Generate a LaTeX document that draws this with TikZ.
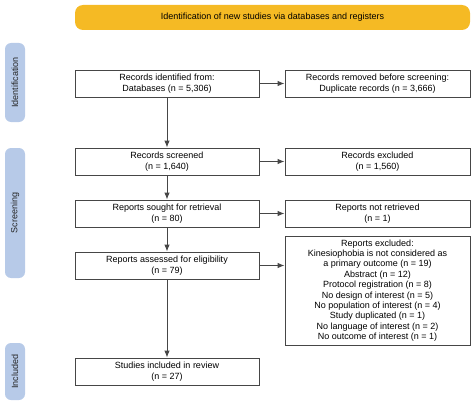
\documentclass[tikz,border=0pt]{standalone}
\usepackage{fontspec}
\setmainfont{Liberation Sans}
\usetikzlibrary{arrows.meta}
\definecolor{hdr}{RGB}{245,186,36}
\definecolor{side}{RGB}{183,202,232}
\definecolor{ln}{RGB}{70,70,70}
\tikzset{
  box/.style={draw=ln, line width=0.9pt, fill=white, align=center, inner sep=1pt,
    minimum height=27pt, font=\fontsize{9}{10.4}\selectfont},
  lbox/.style={box, minimum width=184pt},
  rbox/.style={box, minimum width=185pt},
  sidebox/.style={fill=side, rounded corners=6pt, minimum width=20pt, inner sep=0pt},
  sidetext/.style={rotate=90, font=\fontsize{9}{10}\selectfont, text=black!85},
  arr/.style={draw=ln, line width=0.9pt, -{Latex[length=7pt,width=5.5pt]}}
}
\begin{document}
\begin{tikzpicture}[x=1pt,y=-1pt]
\useasboundingbox (0,0) rectangle (474,404);
\node[fill=hdr, rounded corners=8pt, minimum width=395pt, minimum height=25pt, inner sep=0pt,
  font=\fontsize{9}{10}\selectfont] (hdr) at (272.5,17.5) {Identification of new studies via databases and registers};
\node[sidebox, minimum height=79pt] (sid) at (15,82.5) {};
\node[sidetext] (sidt) at (sid.center) {Identification};
\node[sidebox, minimum height=130pt] (ssc) at (15,213) {};
\node[sidetext] (ssct) at (ssc.center) {Screening};
\node[sidebox, minimum height=57pt] (sin) at (15,371.5) {};
\node[sidetext] (sint) at (sin.center) {Included};

\node[lbox] (b1) at (167,83.5) {Records identified from:\\Databases (n = 5,306)};
\node[rbox] (r1) at (377.5,83.5) {Records removed before screening:\\Duplicate records (n = 3,666)};
\node[lbox] (b2) at (167,161.5) {Records screened\\(n = 1,640)};
\node[rbox] (r2) at (377.5,161.5) {Records excluded\\(n = 1,560)};
\node[lbox] (b3) at (167,213.5) {Reports sought for retrieval\\(n = 80)};
\node[rbox] (r3) at (377.5,213.5) {Reports not retrieved\\(n = 1)};
\node[lbox] (b4) at (167,265.5) {Reports assessed for eligibility\\(n = 79)};
\node[rbox, minimum height=109pt] (r4) at (377.5,290.5) {Reports excluded:\\Kinesiophobia is not considered as\\a primary outcome (n = 19)\\Abstract (n = 12)\\Protocol registration (n = 8)\\No design of interest (n = 5)\\No population of interest (n = 4)\\Study duplicated (n = 1)\\No language of interest (n = 2)\\No outcome of interest (n = 1)};
\node[lbox] (b5) at (167,371.5) {Studies included in review\\(n = 27)};

\draw[arr] (b1) -- (b2);
\draw[arr] (b2) -- (b3);
\draw[arr] (b3) -- (b4);
\draw[arr] (b4) -- (b5);
\draw[arr] (b1) -- (r1);
\draw[arr] (b2) -- (r2);
\draw[arr] (b3) -- (r3);
\draw[arr] (b4.east) -- (b4.east -| r4.west);
\end{tikzpicture}
\end{document}
